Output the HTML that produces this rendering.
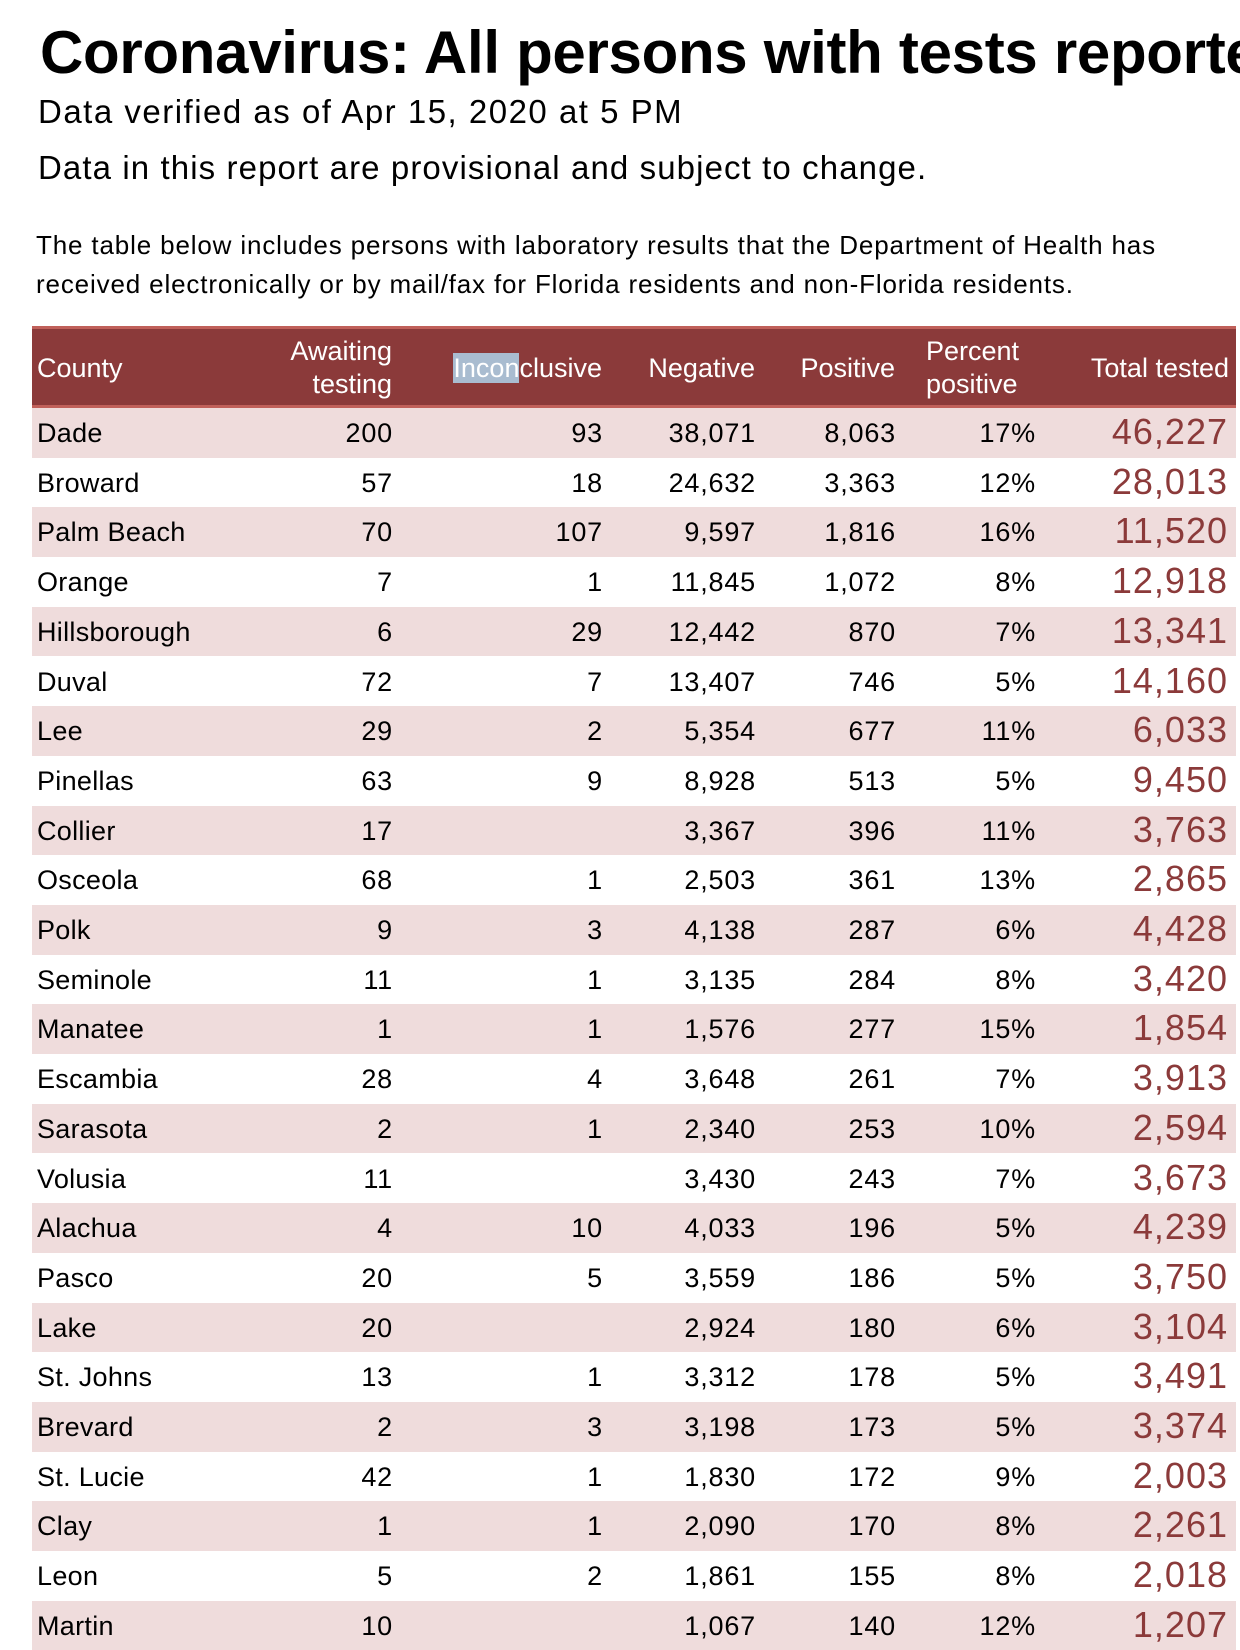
<!DOCTYPE html>
<html><head><meta charset="utf-8"><style>
body{margin:0;width:1240px;height:1650px;overflow:hidden;background:#fff;font-family:"Liberation Sans",sans-serif;color:#000;position:relative}
.t{position:absolute;white-space:nowrap}
.hdr{position:absolute;left:32px;top:326px;width:1204px;height:82px;background:#8b3a3a;border-top:3px solid #c0605a;border-bottom:3px solid #c0605a;box-sizing:border-box;color:#fff;font-size:27px}
.hdr span{position:absolute;white-space:nowrap;line-height:33px;text-align:right}
.row{position:absolute;left:32px;width:1204px;height:49.7px;font-size:27px}
.row.s{background:#efdcdc}
.row span{position:absolute;white-space:nowrap;top:10px;letter-spacing:0.8px}
.row span.c{letter-spacing:0.3px;left:5px}
.row span.tot{color:#8b3a3a;font-size:36px;top:3px;letter-spacing:1px}
</style></head><body>
<div class="t" style="left:40px;top:18px;font-size:60px;font-weight:bold;letter-spacing:-0.3px">Coronavirus: All persons with tests reported</div>
<div class="t" style="left:38px;top:93px;font-size:33px;letter-spacing:1.5px">Data verified as of Apr 15, 2020 at 5 PM</div>
<div class="t" style="left:38px;top:149px;font-size:33px;letter-spacing:1.1px">Data in this report are provisional and subject to change.</div>
<div class="t" style="left:36px;top:226px;font-size:26px;line-height:39px;letter-spacing:0.85px">The table below includes persons with laboratory results that the Department of Health has<br>received electronically or by mail/fax for Florida residents and non-Florida residents.</div>
<div class="hdr">
<span style="left:5px;top:23px">County</span>
<span style="right:844px;top:6px">Awaiting<br>testing</span>
<span style="right:634px;top:23px"><span style="position:static;background:#a9bcd0">Incon</span>clusive</span>
<span style="right:481px;top:23px">Negative</span>
<span style="right:341px;top:23px">Positive</span>
<span style="left:894px;top:6px;text-align:left">Percent<br>positive</span>
<span style="right:7px;top:23px">Total tested</span>
</div>
<div id="rows"></div>
<script>
var d=`Dade|200|93|38,071|8,063|17%|46,227
Broward|57|18|24,632|3,363|12%|28,013
Palm Beach|70|107|9,597|1,816|16%|11,520
Orange|7|1|11,845|1,072|8%|12,918
Hillsborough|6|29|12,442|870|7%|13,341
Duval|72|7|13,407|746|5%|14,160
Lee|29|2|5,354|677|11%|6,033
Pinellas|63|9|8,928|513|5%|9,450
Collier|17||3,367|396|11%|3,763
Osceola|68|1|2,503|361|13%|2,865
Polk|9|3|4,138|287|6%|4,428
Seminole|11|1|3,135|284|8%|3,420
Manatee|1|1|1,576|277|15%|1,854
Escambia|28|4|3,648|261|7%|3,913
Sarasota|2|1|2,340|253|10%|2,594
Volusia|11||3,430|243|7%|3,673
Alachua|4|10|4,033|196|5%|4,239
Pasco|20|5|3,559|186|5%|3,750
Lake|20||2,924|180|6%|3,104
St. Johns|13|1|3,312|178|5%|3,491
Brevard|2|3|3,198|173|5%|3,374
St. Lucie|42|1|1,830|172|9%|2,003
Clay|1|1|2,090|170|8%|2,261
Leon|5|2|1,861|155|8%|2,018
Martin|10||1,067|140|12%|1,207`.split("\n");
var R=[843,633,480,340,200];
var h="";d.forEach(function(l,i){var a=l.split("|");
h+='<div class="row'+(i%2==0?' s':'')+'" style="top:'+(408+i*49.7)+'px"><span class="c">'+a[0]+'</span>';
for(var k=0;k<5;k++)h+='<span style="right:'+R[k]+'px">'+a[k+1]+'</span>';
h+='<span class="tot" style="right:8px">'+a[6]+'</span></div>';});
document.getElementById("rows").innerHTML=h;
</script>
</body></html>
